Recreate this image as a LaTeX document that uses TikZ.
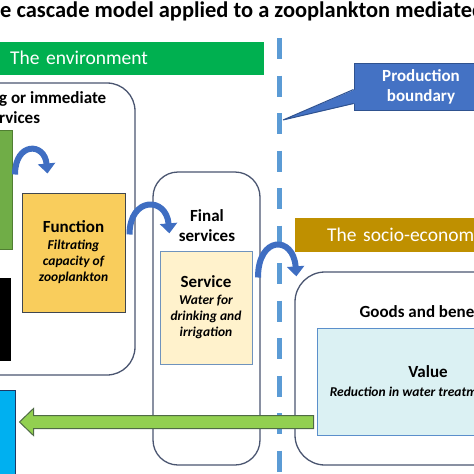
\documentclass[tikz,border=0pt]{standalone}
\usepackage{fontspec}
\setmainfont{Carlito}
\usetikzlibrary{calc,arrows.meta}
\definecolor{envgreen}{HTML}{00B050}
\definecolor{sociogold}{HTML}{BF9000}
\definecolor{pbblue}{HTML}{4472C4}
\definecolor{pbborder}{HTML}{2F528F}
\definecolor{dashblue}{HTML}{5B9BD5}
\definecolor{boxline}{HTML}{4A5570}
\definecolor{fnfill}{HTML}{F9CD5C}
\definecolor{fnline}{HTML}{3F4650}
\definecolor{svfill}{HTML}{FFF2CC}
\definecolor{svline}{HTML}{6F93BD}
\definecolor{valfill}{HTML}{DBF1F3}
\definecolor{valline}{HTML}{5B8FCB}
\definecolor{lgreen}{HTML}{70AD47}
\definecolor{lgreenline}{HTML}{507E32}
\definecolor{cyanbox}{HTML}{00B0F0}
\definecolor{cyanline}{HTML}{1F3864}
\definecolor{arrgreen}{HTML}{92D050}
\definecolor{arrgreenline}{HTML}{4F6B45}
\definecolor{curvblue}{HTML}{3F6EC2}
\newcommand\hdrf{\upshape\bfseries\fontsize{17}{20}\selectfont}
\newcommand\subf{\bfseries\itshape\fontsize{13.5}{16}\selectfont}
\begin{document}
\begin{tikzpicture}[x=1pt,y=-1pt,
  roundbox/.style={draw=boxline, line width=1.3pt, rounded corners=28pt, inner sep=0pt},
  bar/.style={inner ysep=0pt, minimum height=33pt, text=white, font=\fontsize{19.5}{23}\selectfont, align=left, anchor=west},
  hdr/.style={font=\hdrf, align=center, inner sep=0pt},
  fnbox/.style={fill=fnfill, draw=fnline, line width=1pt, font=\subf, align=center, inner sep=0pt},
  svbox/.style={fill=svfill, draw=svline, line width=1pt, font=\subf, align=center, inner sep=0pt},
  valbox/.style={fill=valfill, draw=valline, line width=1pt, font=\subf, align=center, inner sep=0pt},
  sidebox/.style={line width=1pt, inner sep=0pt, minimum width=20pt},
  curvarrow/.style={draw=curvblue, line width=6pt, -{Triangle[length=10pt,width=17pt]}},
  boundary/.style={draw=dashblue, line width=5pt, dash pattern=on 21pt off 16.5pt},
  bigarrow/.style={fill=arrgreen, draw=arrgreenline, line width=1pt, line join=miter}
]
\useasboundingbox (0,0) rectangle (474,474);
\clip (0,0) rectangle (474,474);

% title
\node[font=\bfseries\fontsize{22.45}{27}\selectfont, anchor=base west, inner sep=0pt] (title) at (0,17) {e cascade model applied to a zooplankton mediated};

% production boundary line
\coordinate (bt) at (279,38);
\coordinate (bb) at (279,490);
\draw[boundary] (bt) -- (bb);

% environment bar
\node[bar, fill=envgreen, text width=244pt, inner xsep=10pt] (env) at (0,58) {The environment};

% callout
\node[fill=pbblue, draw=pbborder, line width=1pt, minimum width=134pt, minimum height=47pt, font=\hdrf, text=white, align=center, inner sep=0pt] (pb) at (421,86.5) {Production\\boundary};
\coordinate (pbtip) at (283,120);
\fill[pbblue] ($(pb.north west)+(1.5,27)$) -- (pbtip) -- ($(pb.south west)+(1.5,-7)$) -- cycle;
\draw[pbborder, line width=1pt] ($(pb.north west)+(0,27)$) -- (pbtip) -- ($(pb.south west)+(0,-7)$);

% left rounded box
\node[roundbox, minimum width=195pt, minimum height=292pt] (lbox) at (37.5,229) {};
\node[hdr, anchor=west, align=left] (ltxt) at (-1,108) {g or immediate\\rvices};

% side boxes on the left edge
\node[sidebox, fill=lgreen, draw=lgreenline, minimum height=119pt] (gbox) at (2,189.5) {};
\node[sidebox, fill=black, draw=black, minimum height=82pt] (kbox) at (0,319) {};
\node[sidebox, fill=cyanbox, draw=cyanline, minimum height=100pt] (cbox) at (5,440) {};

% function
\node[fnbox, minimum width=103pt, minimum height=119pt] (fn) at (73.5,252.5) {{\hdrf Function}\\[1pt]Filtrating\\capacity of\\zooplankton};

% final services
\node[roundbox, rounded corners=25pt, minimum width=107pt, minimum height=293pt] (final) at (206.5,318.5) {};
\node[hdr] (finaltxt) at (207,225.5) {Final\\services};
\node[svbox, minimum width=92pt, minimum height=113pt] (service) at (206,307.5) {{\hdrf Service}\\[1pt]Water for\\drinking and\\irrigation};

% socio-economic
\node[bar, fill=sociogold, text width=200pt, inner xsep=32pt, minimum height=34pt] (socio) at (295,235) {The socio-econom};
\node[roundbox, rounded corners=30pt, minimum width=266pt, minimum height=193pt] (goods) at (428,368.5) {};
\node[hdr] (goodstxt) at (428,312) {Goods and bene\phantom{fits}};
\node[valbox, minimum width=222pt, minimum height=107pt] (value) at (428,381.5) {{\hdrf Value}\\[3pt]Reduction in water treatm\phantom{ent costs}};

% curved arrows
\draw[curvarrow] ($(gbox.north east)+(2.5,45)$) .. controls +(0,-32.5) and +(-3,-31.5) .. ($(fn.north west)+(26,-19)$);
\draw[curvarrow] ($(fn.north east)+(4,42)$) .. controls +(0,-38) and +(-3,-37) .. ($(final.north west)+(17,62)$);
\draw[curvarrow] ($(service.north east)+(5.5,27)$) .. controls +(0,-42) and +(-3,-41) .. ($(goods.north west)+(2,5)$);

% big green arrow back to the left
\coordinate (gaE) at ($(value.south west)+(-3,-13.5)$);
\coordinate (gaT) at ($(cbox.east |- gaE)+(4,0)$);
\draw[bigarrow] ($(gaE)+(0,-6.5)$) -- ($(gaT)+(14,-6.5)$) -- ($(gaT)+(14,-13.5)$) -- (gaT) -- ($(gaT)+(14,13.5)$) -- ($(gaT)+(14,6.5)$) -- ($(gaE)+(0,6.5)$) -- cycle;
\end{tikzpicture}
\end{document}
